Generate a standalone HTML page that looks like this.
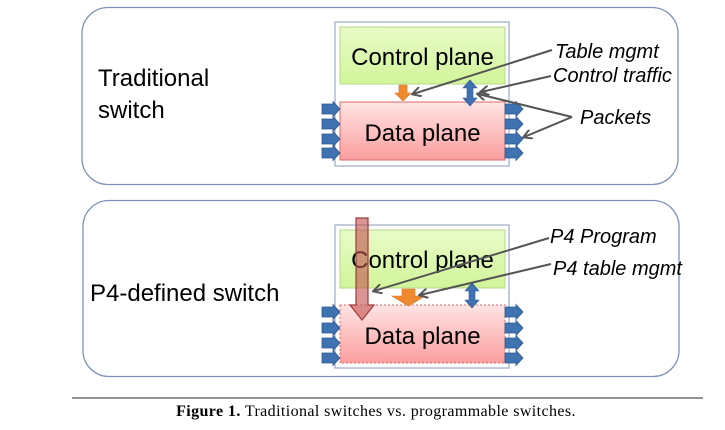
<!DOCTYPE html>
<html><head><style>body{margin:0;background:#fff}svg{display:block}</style></head><body>
<svg width="725" height="430" viewBox="0 0 725 430" xmlns="http://www.w3.org/2000/svg">
<defs>
<linearGradient id="g" x1="0" y1="0" x2="0" y2="1"><stop offset="0" stop-color="#e8fbc8"/><stop offset="1" stop-color="#d2f59a"/></linearGradient>
<linearGradient id="r" x1="0" y1="0" x2="0" y2="1"><stop offset="0" stop-color="#ffe4e4"/><stop offset="1" stop-color="#fb9e9e"/></linearGradient>
<marker id="ah" markerWidth="10" markerHeight="10" refX="8" refY="5" orient="auto" markerUnits="userSpaceOnUse"><path d="M0,0 L9,5 L0,10" fill="none" stroke="#555" stroke-width="2"/></marker>
<g id="ba"><path d="M0,-5 H11 V-7.5 L18,0 L11,7.5 V5 H0 Z" fill="#3f72b0" stroke="#2f5a90" stroke-width="0.8"/></g>
</defs>
<g font-family="Liberation Sans, sans-serif">
<rect x="82" y="7.5" width="596" height="177" rx="26" fill="#fff" stroke="#7b93b8" stroke-width="1.3"/>
<rect x="83" y="200.5" width="596" height="176" rx="26" fill="#fff" stroke="#7b93b8" stroke-width="1.3"/>
<text x="98" y="86" font-size="24">Traditional</text>
<text x="98" y="118" font-size="24">switch</text>
<text x="90" y="301" font-size="24">P4-defined switch</text>

<!-- top -->
<rect x="335" y="22" width="174" height="144" fill="#fff" stroke="#9aaac8" stroke-width="1.2"/>
<rect x="340" y="27" width="165" height="57" fill="url(#g)" stroke="#b5d88a"/>
<rect x="340" y="102" width="165" height="58" fill="url(#r)" stroke="#d86a6a"/>
<text x="422.5" y="65" font-size="24" text-anchor="middle">Control plane</text>
<text x="422.5" y="141" font-size="24" text-anchor="middle">Data plane</text>
<path d="M399,85 H407 V93 H411 L403,101 L395,93 H399 Z" fill="#f08a30" stroke="#d87020" stroke-width="0.6"/>
<path d="M470,80 L477,88 H473 V98 H477 L470,106 L463,98 H467 V88 H463 Z" fill="#3f72b0" stroke="#2f5a90" stroke-width="0.6"/>
<use href="#ba" x="322" y="109"/><use href="#ba" x="322" y="124"/><use href="#ba" x="322" y="139"/><use href="#ba" x="322" y="153"/>
<use href="#ba" x="505" y="109"/><use href="#ba" x="505" y="124"/><use href="#ba" x="505" y="139"/><use href="#ba" x="505" y="153"/>
<g stroke="#555" stroke-width="2" fill="none" marker-end="url(#ah)">
<line x1="552" y1="50" x2="413" y2="94"/>
<line x1="551" y1="76" x2="481" y2="92"/>
<line x1="572" y1="117" x2="478" y2="94"/>
<line x1="572" y1="117" x2="524" y2="137"/>
</g>
<g font-size="20" font-style="italic">
<text x="555" y="58">Table mgmt</text>
<text x="553" y="82">Control traffic</text>
<text x="580" y="124">Packets</text>
</g>

<!-- bottom -->
<rect x="335" y="225" width="174" height="143" fill="#fff" stroke="#9aaac8" stroke-width="1.2"/>
<rect x="340" y="230" width="165" height="58" fill="url(#g)" stroke="#b5d88a"/>
<rect x="340" y="305" width="165" height="58" fill="url(#r)" stroke="#d86a6a" stroke-dasharray="2,2"/>
<text x="422.5" y="268" font-size="24" text-anchor="middle">Control plane</text>
<text x="422.5" y="344" font-size="24" text-anchor="middle">Data plane</text>
<path d="M402,289 H415 V296 H425 L408.5,306 L392,296 H402 Z" fill="#f08a30" stroke="#d87020" stroke-width="0.6"/>
<path d="M472,283 L479,291 H475 V300 H479 L472,308 L465,300 H469 V291 H465 Z" fill="#3f72b0" stroke="#2f5a90" stroke-width="0.6"/>
<use href="#ba" x="322" y="312"/><use href="#ba" x="322" y="328"/><use href="#ba" x="322" y="343"/><use href="#ba" x="322" y="358"/>
<use href="#ba" x="505" y="312"/><use href="#ba" x="505" y="328"/><use href="#ba" x="505" y="343"/><use href="#ba" x="505" y="358"/>
<path d="M356,218 H368 V305 H374 L362,320 L350,305 H356 Z" fill="#c0504d" fill-opacity="0.6" stroke="#a03a38" stroke-width="1.2"/>
<g stroke="#555" stroke-width="2" fill="none" marker-end="url(#ah)">
<line x1="549" y1="238" x2="374" y2="291"/>
<line x1="551" y1="264" x2="420" y2="295"/>
</g>
<g font-size="20" font-style="italic">
<text x="550" y="243">P4 Program</text>
<text x="553" y="275">P4 table mgmt</text>
</g>

<line x1="72" y1="398" x2="703" y2="398" stroke="#555" stroke-width="1.3"/>
<text x="376" y="416" font-family="Liberation Serif, serif" font-size="16" letter-spacing="0.4" text-anchor="middle"><tspan font-weight="bold">Figure 1.</tspan> Traditional switches vs. programmable switches.</text>
</g>
</svg>
</body></html>
